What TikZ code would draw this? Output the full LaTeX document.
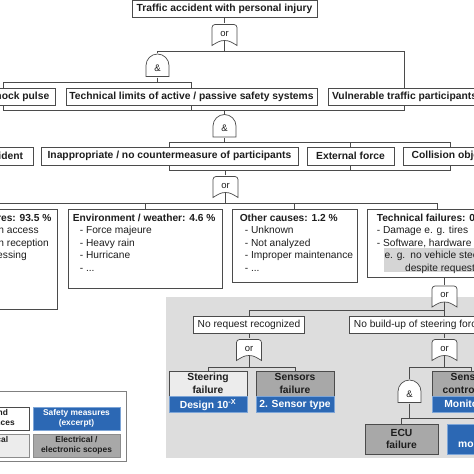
\documentclass[tikz,border=0pt]{standalone}
\usepackage{fontspec}
\setmainfont{Liberation Sans}
\definecolor{linegray}{RGB}{75,75,75}
\definecolor{inkgray}{RGB}{30,30,30}
\definecolor{measblue}{RGB}{44,104,180}
\definecolor{measedge}{RGB}{125,165,215}
\definecolor{regiongray}{RGB}{221,221,221}
\definecolor{elecgray}{RGB}{168,168,168}
\definecolor{mechgray}{RGB}{236,236,236}
\definecolor{markgray}{RGB}{213,213,213}
\begin{document}
\begin{tikzpicture}[x=1pt, y=1pt,
  event/.style={draw=linegray, line width=.8pt, fill=white, inner sep=0pt, text=inkgray, font=\bfseries\fontsize{10.3}{12.5}\selectfont, minimum height=17},
  cause/.style={draw=linegray, line width=.8pt, fill=white, inner sep=0pt},
  causetext/.style={anchor=north west, inner sep=0pt, align=left, text=inkgray, font=\fontsize{10.2}{12.5}\selectfont},
  failbox/.style={draw=linegray, line width=.8pt, inner sep=0pt, align=center, text=inkgray, font=\bfseries\fontsize{10.3}{12.5}\selectfont, minimum width=78},
  measure/.style={draw=measedge, line width=.8pt, fill=measblue, inner sep=0pt, align=center, text=white, font=\bfseries\fontsize{10.3}{12.5}\selectfont, minimum width=78, minimum height=16},
  gate/.style={inner sep=0pt, text=inkgray, font=\fontsize{9.5}{11}\selectfont},
  orgate/.style={gate, minimum width=27, minimum height=23, text depth=3pt, path picture={
    \draw[draw=linegray, line width=.7pt, fill=white] ([shift={(-12.5pt,-10.5pt)}]path picture bounding box.center) -- ++(0pt,18pt) arc[start angle=180, end angle=90, radius=3pt] -- ++(19pt,0pt) arc[start angle=90, end angle=0, radius=3pt] -- ++(0pt,-18pt) .. controls +(-5pt,3pt) and +(5pt,0pt) .. ++(-12.5pt,5pt) .. controls +(-5pt,0pt) and +(5pt,3pt) .. ++(-12.5pt,-5pt) -- cycle;}},
  andgate/.style={gate, minimum width=25, minimum height=24, text height=11.5pt, path picture={
    \draw[draw=linegray, line width=.7pt, fill=white] ([shift={(-11.5pt,-11pt)}]path picture bounding box.center) -- ++(0pt,11pt) arc[start angle=180, end angle=0, radius=11.5pt] -- ++(0pt,-11pt) -- cycle;}},
  wire/.style={draw=linegray, line width=.7pt},
  legendcell/.style={draw=linegray, line width=.7pt, inner sep=0pt, align=center, minimum width=87, minimum height=23, font=\bfseries\fontsize{8.4}{10.3}\selectfont}
]
\useasboundingbox (0,0) rectangle (474,-474);
\clip (0,0) rectangle (474,-474);
\fill[regiongray] (166,-297) rectangle (490,-458);

\node[event, minimum width=185] (accident) at (224.5,-9) {Traffic accident with personal injury};
\node[orgate] (g1) at (224.5,-35) {or};
\node[andgate] (a1) at (157.5,-65.5) {\&};
\node[event, minimum width=103] (shock) at (3.5,-96.5) {Crash shock pulse};
\node[event, minimum width=251] (limits) at (191.5,-96.5) {Technical limits of active / passive safety systems};
\node[event, minimum width=153] (vulnerable) at (404.5,-96.5) {Vulnerable traffic participants};
\node[andgate] (a2) at (224.5,-126) {\&};
\node[event, minimum width=63.5, minimum height=18] (prior) at (1.25,-156) {Accident};
\node[event, minimum width=257, minimum height=18] (reaction) at (169.5,-156) {Inappropriate / no countermeasure of participants};
\node[event, minimum width=87, minimum height=18] (force) at (350.5,-156) {External force};
\node[event, minimum width=94, minimum height=18] (object) at (450,-156) {Collision object};
\node[orgate] (g2) at (225.5,-187) {or};

\node[cause, minimum width=123, minimum height=100] (human) at (-4.5,-259) {};
\node[cause, minimum width=154, minimum height=79] (weather) at (145,-248.5) {};
\node[cause, minimum width=125, minimum height=73] (other) at (294.5,-245.5) {};
\node[cause, minimum width=140, minimum height=68] (technical) at (437,-243) {};
\fill[markgray] (384,-248) rectangle (500,-272);
\node[causetext] (humantext) at ([shift={(5,-5)}]human.north west) {\textbf{Human failures: 93.5 \%}\\\hspace*{8pt}- Information access\\\hspace*{8pt}- Information reception\\\hspace*{8pt}- Data processing\\\hspace*{8pt}- ...};
\node[causetext] (weathertext) at ([shift={(5,-5)}]weather.north west) {\textbf{Environment / weather: 4.6 \%}\\\hspace*{7pt}- Force majeure\\\hspace*{7pt}- Heavy rain\\\hspace*{7pt}- Hurricane\\\hspace*{7pt}- ...};
\node[causetext] (othertext) at ([shift={(8,-5)}]other.north west) {\textbf{Other causes: 1.2 \%}\\\hspace*{5pt}- Unknown\\\hspace*{5pt}- Not analyzed\\\hspace*{5pt}- Improper maintenance\\\hspace*{5pt}- ...};
\node[causetext] (technicaltext) at ([shift={(10,-5)}]technical.north west) {\textbf{Technical failures: 0.7 \%}\\- Damage e. g. tires\\- Software, hardware failure};
\node[causetext, anchor=center, align=center] (steertext) at (440,-262.5) {e. g.\enspace no vehicle steering\\despite request};

\node[orgate] (g3) at (444.5,-296.5) {or};
\node[event, font=\fontsize{10.2}{12.5}\selectfont, minimum width=111] (norequest) at (249,-324.5) {No request recognized};
\node[event, font=\fontsize{10.2}{12.5}\selectfont, minimum width=138] (nobuildup) at (418,-324.5) {No build-up of steering force};
\node[orgate] (g4) at (249,-350) {or};
\node[orgate] (g5) at (444.5,-350) {or};
\node[failbox, fill=mechgray, minimum height=25] (steering) at (208,-383.5) {Steering\\failure};
\node[measure, anchor=north] (design) at (steering.south) {Design 10\textsuperscript{-X}};
\node[failbox, fill=elecgray, minimum height=25] (sensors) at (295,-383.5) {Sensors\\failure};
\node[measure, anchor=north] (sensortype) at (sensors.south) {2. Sensor type};
\node[failbox, fill=elecgray, minimum height=25] (sensorecu) at (471,-383.5) {Sensors\\control unit};
\node[measure, anchor=north] (monitoring) at (sensorecu.south) {Monitoring};
\node[andgate] (a3) at (409.5,-391.5) {\&};
\node[failbox, fill=elecgray, minimum width=73, minimum height=30] (ecu) at (401.5,-439) {ECU\\failure};
\node[measure, minimum width=76, minimum height=30] (ecumon) at (485,-439) {ECU\\monitoring};

\draw[draw=black!50, fill=white, line width=.8pt] (-10,-391) rectangle (126,-461);
\node[legendcell, fill=white, text=inkgray] (lgevent) at (-14.5,-418.5) {Events and\\consequences};
\node[legendcell, fill=measblue, draw=measedge, text=white] (lgmeasure) at (76.5,-418.5) {Safety measures\\(excerpt)};
\node[legendcell, fill=mechgray, draw=black!45, text=inkgray] (lgmech) at (-14.5,-445.5) {Mechanical\\scopes};
\node[legendcell, fill=elecgray, draw=black!45, text=inkgray] (lgelec) at (76.5,-445.5) {Electrical /\\electronic scopes};

\draw[wire] (accident) -- (g1);
\draw[wire] ([yshift=6pt]g1.south) -- ++(0,-10.5) -| (a1.north);
\draw[wire] ([yshift=6pt]g1.south) -- ++(0,-10.5) -| (vulnerable.north);
\draw[wire] (a1.south) -- ++(0,-4.5) -| (shock.north);
\draw[wire] (a1.south) -- ++(0,-4.5) -| (limits.north);
\draw[wire] (shock.south) -- ++(0,-5) -| (vulnerable.south);
\draw[wire] (limits.south) -- ++(0,-5);
\draw[wire] (a2.north) -- ++(0,4);
\draw[wire] (a2.south) -- ++(0,-4) -| (reaction.north);
\draw[wire] (a2.south) -- ++(0,-4) -| (object.north);
\draw[wire] (force.north) -- ++(0,5);
\draw[wire] (reaction.south) -- ++(0,-5) -| (object.south);
\draw[wire] (force.south) -- ++(0,-5);
\draw[wire] (g2.north) -- ++(0,5.5);
\draw[wire] ([yshift=6pt]g2.south) -- ++(0,-10.5) -| (human.north);
\draw[wire] ([yshift=6pt]g2.south) -- ++(0,-10.5) -| (technical.north);
\draw[wire] (weather.north) -- ++(0,6);
\draw[wire] (other.north) -- ++(0,6);
\draw[wire] (g3.north |- technical.south) -- (g3.north);
\draw[wire] ([yshift=6pt]g3.south) -- ++(0,-8) -| (norequest.north);
\draw[wire] ([yshift=6pt]g3.south) -- (g3.south |- nobuildup.north);
\draw[wire] (norequest) -- (g4);
\draw[wire] (g5.north |- nobuildup.south) -- (g5.north);
\draw[wire] ([yshift=6pt]g4.south) -- ++(0,-12) -| (steering.north);
\draw[wire] ([yshift=6pt]g4.south) -- ++(0,-12) -| (sensors.north);
\draw[wire] ([yshift=6pt]g5.south) -- ++(0,-12) -| (a3.north);
\draw[wire] ([yshift=6pt]g5.south) -- ++(0,-12) -| (sensorecu.north);
\draw[wire] (a3.south) -- ++(0,-14.5) -| (ecu.north);
\draw[wire] (a3.south) -- ++(0,-14.5) -| (ecumon.north);
\end{tikzpicture}
\end{document}
